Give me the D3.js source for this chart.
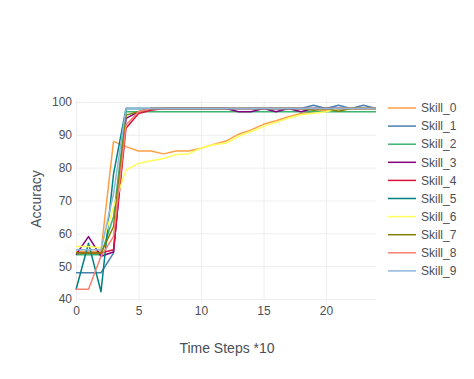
<!DOCTYPE html>
<html><head><meta charset="utf-8">
<script src="https://cdn.jsdelivr.net/npm/d3@7"></script>
<style>body{margin:0;background:#fff}svg{display:block;font-family:"Liberation Sans",Arial,sans-serif}</style>
</head><body><svg id="c" width="474" height="379"></svg>
<script>
const steps = d3.range(0, 25);
const skillNames = ["Skill_0","Skill_1","Skill_2","Skill_3","Skill_4","Skill_5","Skill_6","Skill_7","Skill_8","Skill_9"];
const skillColors = ["#ff9f45","#4a7fb0","#3cb371","#800080","#dc143c","#008080","#ffff5a","#808000","#fa8072","#8db6dc"];
const skill0 = [54.5,54.5,54.5,88,86.4,85.1,85.1,84.2,85.1,85.1,85.9,87.1,88.1,90.2,91.5,93.2,94.3,95.5,96.5,97,97.5,98,98,98,98];
const skill1 = [48,48,48,54,98,98,98,98,98,98,98,98,98,98,98,98,98,98,98,99,98,99,98,99,98];
const skill2 = [53.5,53.5,53.5,65,97,97,97,97,97,97,97,97,97,97,97,97,97,97,97,97,97,97,97,97,97];
const skill3 = [53.5,59,53,54.3,95,97,98,98,98,98,98,98,98,97,97,98,97,98,97,98,98,98,98,98,98];
const skill4 = [54,54,54,55,92,96.5,97.5,98,98,98,98,98,98,98,98,98,98,98,98,98,98,98,98,98,98];
const skill5 = [42.8,57,42.2,78,98,98,98,98,98,98,98,98,98,98,98,98,98,98,98,98,98,98,98,98,98];
const skill6 = [56,56,55.5,68,79.3,81.3,82.1,82.8,84,84.2,86,87,87.4,89.5,91,92.5,93.8,95.1,96.1,96.6,97,98,98,98,98];
const skill7 = [54,54,54,62,96,97,98,98,98,98,98,98,98,98,98,98,98,98,98,97.5,98,97.2,98,98,98];
const skill8 = [43,43,53,59,93,97,98,98,98,98,98,98,98,98,98,98,98,98,98,98,98,98,98,98,98];
const skill9 = [55,55,55,72,98,98,98,98,98,98,98,98,98,98,98,98,98,98,98,98,98,98,98,98,98];
const series = [skill0,skill1,skill2,skill3,skill4,skill5,skill6,skill7,skill8,skill9];
const xTicks = [0,5,10,15,20];
const yTicks = [40,50,60,70,80,90,100];

const svg = d3.select("#c");
const x = d3.scaleLinear().domain([0,24]).range([76,376]);
const y = d3.scaleLinear().domain([40,100]).range([299,102]);
const txt = "#4a4f57";
const ff = "'Liberation Sans',Arial,sans-serif";

// grid
svg.append("g").attr("transform",`translate(${x.range()[0]},0)`)
  .call(d3.axisLeft(y).tickValues(yTicks).tickSize(-(x.range()[1]-x.range()[0])).tickFormat(""))
  .call(g=>{g.select(".domain").remove();g.selectAll("line").attr("stroke","#eee").attr("stroke-width",1);});
svg.append("g").attr("transform",`translate(0,${y(40)+3})`)
  .call(d3.axisBottom(x).tickValues(xTicks).tickSize(-(y(40)+3-100)).tickFormat(""))
  .call(g=>{g.select(".domain").remove();g.selectAll("line").attr("stroke","#eee").attr("stroke-width",1);});

// tick labels
svg.append("g").attr("transform",`translate(${x.range()[0]},0)`)
  .call(d3.axisLeft(y).tickValues(yTicks).tickSize(0).tickPadding(4))
  .call(g=>{g.select(".domain").remove();g.selectAll("text").attr("fill",txt).attr("font-size",12).attr("font-family",ff);});
svg.append("g").attr("transform",`translate(0,${y(40)+3})`)
  .call(d3.axisBottom(x).tickValues(xTicks).tickSize(0).tickPadding(4))
  .call(g=>{g.select(".domain").remove();g.selectAll("text").attr("fill",txt).attr("font-size",12).attr("font-family",ff);});

// lines
const line = d3.line().x((d,i)=>x(steps[i])).y(d=>y(d));
series.forEach((s,i)=>{
  svg.append("path").datum(s).attr("d",line).attr("fill","none")
    .attr("stroke",skillColors[i]).attr("stroke-width",1.5).attr("stroke-linejoin","round");
});

// axis titles
svg.append("text").attr("x",227).attr("y",353).attr("text-anchor","middle")
  .attr("fill",txt).attr("font-size",14).text("Time Steps *10");
svg.append("text").attr("transform","translate(41,199) rotate(-90)").attr("text-anchor","middle")
  .attr("fill",txt).attr("font-size",14).text("Accuracy");

// legend
const lg = svg.append("g");
skillNames.forEach((n,i)=>{
  const yy = 108 + i*18.1;
  lg.append("line").attr("x1",388).attr("x2",416).attr("y1",yy).attr("y2",yy)
    .attr("stroke",skillColors[i]).attr("stroke-width",1.5);
  lg.append("text").attr("x",421).attr("y",yy).attr("dy","0.35em")
    .attr("fill",txt).attr("font-size",12).text(n);
});
</script></body></html>
